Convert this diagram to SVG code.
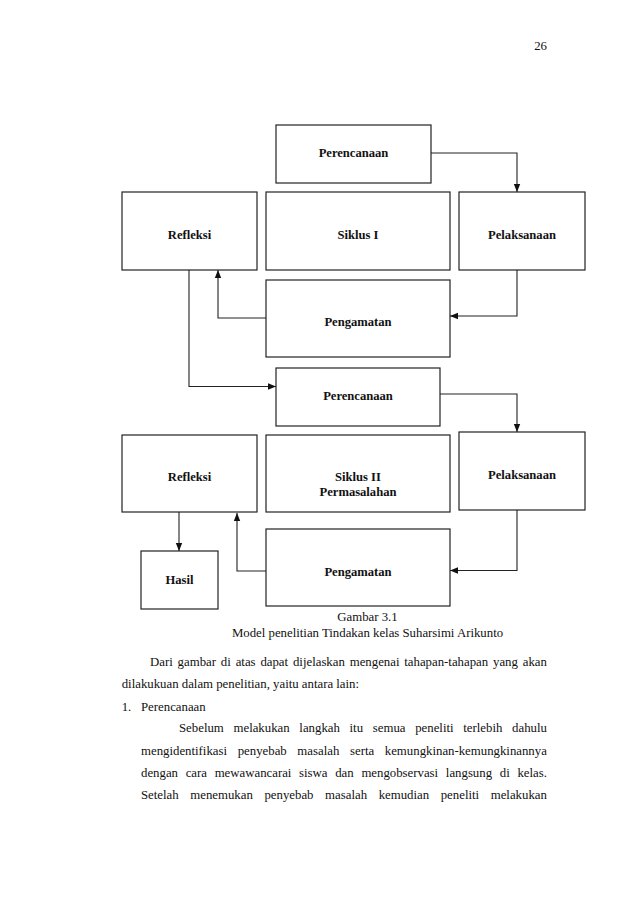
<svg xmlns="http://www.w3.org/2000/svg" width="638" height="902" viewBox="0 0 638 902">
<style>
.box{fill:#fff;stroke:#222;stroke-width:1.2}
.lbl{font-family:"Liberation Serif","Times New Roman",serif;font-weight:bold;font-size:12.6px;fill:#111;text-anchor:middle}
.con{fill:none;stroke:#222;stroke-width:1.1}
.txt{font-family:"Liberation Serif","Times New Roman",serif;font-size:12.8px;fill:#111}
</style>
<defs>
<marker id="ah" markerUnits="userSpaceOnUse" markerWidth="8" markerHeight="8" refX="8" refY="4" orient="auto">
<path d="M0,0.8 L8,4 L0,7.2 z" fill="#111"/>
</marker>
</defs>
<rect width="638" height="902" fill="#fff"/>
<text class="txt" x="547" y="49.5" text-anchor="end">26</text>

<g id="connectors">
<path class="con" d="M431,153 H517 V192" marker-end="url(#ah)"/>
<path class="con" d="M517,270 V316 H450" marker-end="url(#ah)"/>
<path class="con" d="M266,318 H218 V270" marker-end="url(#ah)"/>
<path class="con" d="M189,270 V386.5 H276" marker-end="url(#ah)"/>
<path class="con" d="M440,394 H517 V432" marker-end="url(#ah)"/>
<path class="con" d="M517,510 V570.5 H450" marker-end="url(#ah)"/>
<path class="con" d="M266,571 H237 V513" marker-end="url(#ah)"/>
<path class="con" d="M179,512 V551" marker-end="url(#ah)"/>
</g>

<g id="perencanaan1"><rect class="box" x="276" y="125" width="155" height="58"/><text class="lbl" x="353.5" y="157">Perencanaan</text></g>
<g id="refleksi1"><rect class="box" x="122" y="192" width="135" height="78"/><text class="lbl" x="189.5" y="238.5">Refleksi</text></g>
<g id="siklus1"><rect class="box" x="266" y="192" width="184" height="78"/><text class="lbl" x="358" y="238.5">Siklus I</text></g>
<g id="pelaksanaan1"><rect class="box" x="459" y="192" width="126" height="78"/><text class="lbl" x="522" y="238.5">Pelaksanaan</text></g>
<g id="pengamatan1"><rect class="box" x="266" y="280" width="184" height="77"/><text class="lbl" x="358" y="326">Pengamatan</text></g>

<g id="perencanaan2"><rect class="box" x="276" y="368" width="164" height="58"/><text class="lbl" x="358" y="400">Perencanaan</text></g>
<g id="refleksi2"><rect class="box" x="122" y="435" width="135" height="77"/><text class="lbl" x="189.5" y="481">Refleksi</text></g>
<g id="siklus2"><rect class="box" x="266" y="435" width="184" height="77"/><text class="lbl" x="358" y="481">Siklus II</text><text class="lbl" x="358" y="495.5">Permasalahan</text></g>
<g id="pelaksanaan2"><rect class="box" x="459" y="432" width="126" height="78"/><text class="lbl" x="522" y="478.5">Pelaksanaan</text></g>
<g id="pengamatan2"><rect class="box" x="266" y="529" width="184" height="77"/><text class="lbl" x="358" y="575.5">Pengamatan</text></g>
<g id="hasil"><rect class="box" x="141" y="551" width="77" height="58"/><text class="lbl" x="179.5" y="583.5">Hasil</text></g>

<text class="txt" x="367.5" y="621" text-anchor="middle">Gambar 3.1</text>
<text class="txt" x="367.5" y="636.5" text-anchor="middle">Model penelitian Tindakan kelas Suharsimi Arikunto</text>

<text class="txt" x="150" y="666" word-spacing="1.66">Dari gambar di atas dapat dijelaskan mengenai tahapan-tahapan yang akan</text>
<text class="txt" x="121.7" y="688">dilakukuan dalam penelitian, yaitu antara lain:</text>
<text class="txt" x="121.7" y="710.5">1.</text>
<text class="txt" x="141" y="710.5">Perencanaan</text>
<text class="txt" x="179" y="732" word-spacing="6.51">Sebelum melakukan langkah itu semua peneliti terlebih dahulu</text>
<text class="txt" x="141" y="755" word-spacing="7.47">mengidentifikasi penyebab masalah serta kemungkinan-kemungkinannya</text>
<text class="txt" x="141" y="777" word-spacing="4.5">dengan cara mewawancarai siswa dan mengobservasi langsung di kelas.</text>
<text class="txt" x="141" y="798.5" word-spacing="8.42">Setelah menemukan penyebab masalah kemudian peneliti melakukan</text>
</svg>
